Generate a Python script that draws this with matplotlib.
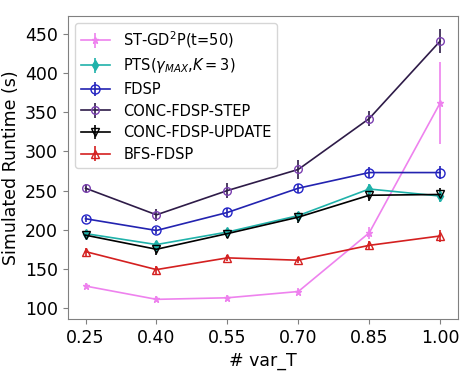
import matplotlib
matplotlib.use("Agg")
import matplotlib.pyplot as plt

var_t = [0.25, 0.40, 0.55, 0.70, 0.85, 1.00]
tick_labels = ["0.25", "0.40", "0.55", "0.70", "0.85", "1.00"]

st_gd2p = [128, 111, 113, 121, 196, 362]
st_gd2p_err = [4, 4, 4, 4, 8, 52]
pts = [195, 181, 197, 218, 252, 243]
pts_err = [4, 5, 4, 5, 6, 8]
fdsp = [214, 199, 222, 253, 273, 273]
fdsp_err = [4, 5, 6, 6, 7, 8]
conc_step = [253, 219, 250, 277, 342, 441]
conc_step_err = [5, 8, 10, 12, 10, 15]
conc_update = [193, 175, 195, 216, 244, 245]
conc_update_err = [4, 7, 5, 7, 7, 8]
bfs_fdsp = [172, 149, 164, 161, 180, 192]
bfs_fdsp_err = [5, 5, 4, 4, 5, 8]

plt.rcParams["font.size"] = 12.5

fig = plt.figure(figsize=(4.74, 3.73), dpi=100)
ax = fig.add_axes([0.143, 0.145, 0.823, 0.812])

series = [
    ("ST-GD$^2$P(t=50)", st_gd2p, st_gd2p_err, "violet", "violet", "*", "violet", 5),
    (r"PTS($\gamma_{MAX}$,$K=3$)", pts, pts_err, "lightseagreen", "lightseagreen", "d", "lightseagreen", 5),
    ("FDSP", fdsp, fdsp_err, "#2323b0", "#2323c8", "o", "none", 6.5),
    ("CONC-FDSP-STEP", conc_step, conc_step_err, "#2e1b48", "#7a3fb0", "o", "none", 5.5),
    ("CONC-FDSP-UPDATE", conc_update, conc_update_err, "black", "black", "v", "none", 6),
    ("BFS-FDSP", bfs_fdsp, bfs_fdsp_err, "#d42020", "#d42020", "^", "none", 6),
]

for label, vals, err, color, mec, marker, mfc, ms in series:
    ax.errorbar(var_t, vals, yerr=err, color=color, ecolor=color, marker=marker,
                markersize=ms, mec=mec, mfc=mfc,
                linewidth=1.2, elinewidth=1.2, capsize=0, label=label)

ax.set_xticks(var_t)
ax.set_xticklabels(tick_labels)
ax.set_yticks([100, 150, 200, 250, 300, 350, 400, 450])
ax.set_xlim(0.2125, 1.0375)
ax.set_ylim(86, 473)
ax.set_xlabel("# var_T")
ax.set_ylabel("Simulated Runtime (s)")
for s in ax.spines.values():
    s.set_color("#808080")
ax.tick_params(color="#808080")
ax.legend(loc="upper left", fontsize=10.5, framealpha=0.8, borderaxespad=0.5,
          handlelength=2.0, handletextpad=0.9, labelspacing=0.45)

fig.savefig("out.png", dpi=100)
